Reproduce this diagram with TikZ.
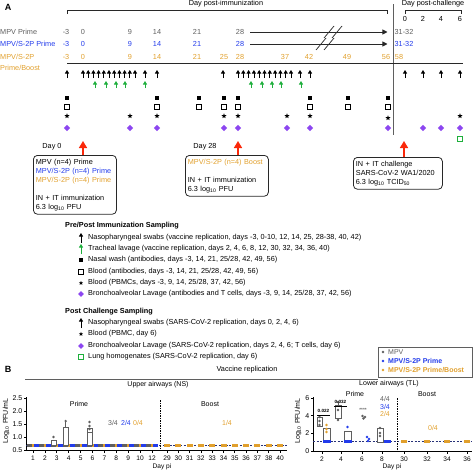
\documentclass[tikz,border=0pt]{standalone}
\usepackage{fontspec}
\setmainfont{Liberation Sans}
\usetikzlibrary{arrows.meta,shapes.geometric}
\definecolor{cblue}{RGB}{35,60,235}
\definecolor{corange}{RGB}{225,160,45}
\definecolor{cgray}{RGB}{95,95,95}
\definecolor{cpurple}{RGB}{140,70,240}
\definecolor{cgreen}{RGB}{30,175,60}
\definecolor{cred}{RGB}{250,40,10}
\definecolor{cdark}{RGB}{40,40,40}
\definecolor{cnavy}{RGB}{40,50,120}
\newcommand\fs{\fontsize{7.3}{9}\selectfont}
\newcommand\fss{\fontsize{7}{8}\selectfont}
\newcommand\fsk{\fontsize{6.6}{7}\selectfont}
\newcommand\fst{\fontsize{4.6}{5}\selectfont\bfseries}
\begin{document}
\begin{tikzpicture}[x=1pt,y=-1pt,every node/.style={inner sep=0pt,font=\fs},
 smallarr/.style={-{Triangle[width=4pt,length=3.5pt]},line width=0.8pt,black},
 grnarr/.style={-{Triangle[width=4pt,length=3.5pt]},line width=0.8pt,cgreen},
 redarr/.style={-{Triangle[width=8pt,length=7pt]},line width=1.6pt,cred},
 longarr/.style={-{Triangle[width=5pt,length=5pt]},line width=0.8pt,cdark},
 fsq/.style={rectangle,fill=black,minimum size=4.5pt},
 osq/.style={rectangle,draw=black,line width=0.8pt,minimum size=4.5pt},
 starm/.style={star,star points=5,star point ratio=2.4,fill=black,minimum size=5.5pt},
 dia/.style={diamond,fill=cpurple,minimum size=6.5pt},
 gsq/.style={rectangle,draw=cgreen,line width=0.9pt,minimum size=5.5pt},
 infobox/.style={draw=cdark,rounded corners=4pt,line width=0.8pt,align=left,inner xsep=2.5pt,inner ysep=3.5pt,anchor=north west},
 axisln/.style={line width=0.8pt,black},
 lod/.style={cnavy,line width=0.6pt,dash pattern=on 2pt off 1.5pt},
 sep/.style={line width=0.7pt,dash pattern=on 1.5pt off 1pt,black},
 pbox/.style={draw=cgray,fill=white,line width=0.6pt},
 lbl/.style={anchor=west},
]
\useasboundingbox (0,0) rectangle (474,469);
% ===== Panel A =====
\node[font=\fontsize{9}{10}\selectfont\bfseries] (A) at (8,7) {A};
\node (dpi) at (226,4) {Day post-immunization};
\draw[line width=0.7pt,cdark] (67,14) -- (67,10) -- (387,10) -- (387,14);
\node (dpc) at (433,4) {Day post-challenge};
\draw[line width=0.7pt,cdark] (405,14) -- (405,10) -- (461,10) -- (461,14);
\foreach \d/\x in {0/405,2/423,4/441,6/460} \node at (\x,19) {\d};
\draw[line width=0.8pt,cgray] (393,4) -- (393,135);
% row labels
\node[lbl,text=cgray] (l1) at (0,32) {MPV Prime};
\node[lbl,text=cblue] (l2) at (0,44) {MPV/S-2P Prime};
\node[lbl,text=corange] (l3) at (0,57) {MPV/S-2P};
\node[lbl,text=corange] (l3b) at (0,68) {Prime/Boost};
% row numbers
\foreach \t/\x in {-3/66,0/83,9/130,14/157,21/197} {
  \node[text=cgray] at (\x,32) {\t};
  \node[text=cblue] at (\x,44) {\t};
}
\node[text=cgray] (a28) at (240,32) {28};
\node[text=cblue] (b28) at (240,44) {28};
\node[text=cgray] (a31) at (404,32) {31-32};
\node[text=cblue] (b31) at (404,44) {31-32};
\draw[longarr,shorten <=6pt,shorten >=7pt] (a28) -- (a31);
\draw[longarr,shorten <=6pt,shorten >=7pt] (b28) -- (b31);
\foreach \c/\y in {329/32,337/32,321/44,329/44}
  \draw[line width=0.7pt,cdark] (\c-5,\y+6) -- (\c+5,\y-6);
\foreach \t/\x in {-3/66,0/83,9/130,14/157,21/197,25/224,28/240,37/285,42/309,49/347,56/386,58/399}
  \node[text=corange] at (\x,57) {\t};
\draw[line width=0.8pt,cdark] (67,63) -- (463,63);
% black sampling arrows
\foreach \x in {67,145,157,223,300,310,405,423,441,460}
  \draw[smallarr] (\x,78) -- (\x,70);
\foreach \k in {0,...,10} {
  \draw[smallarr] (83+5.2*\k,78) -- (83+5.2*\k,70);
  \draw[smallarr] (238+5.3*\k,78) -- (238+5.3*\k,70);
}
\foreach \x in {95,106,116,125,145,251,262,272,281,301}
  \draw[grnarr] (\x,88) -- (\x,81);
\foreach \x in {67,157,199,224,238,310,348,388} {
  \node[fsq] at (\x,98) {};
  \node[osq] at (\x,107) {};
}
\foreach \x in {67,130,157,224,238,287,310,460}
  \node[starm] at (\x,116) {};
\node[starm] at (388,118) {};
\foreach \x in {67,130,157,224,238,287,310,388,423,441,460}
  \node[dia] at (\x,128) {};
\node[gsq] at (460,139) {};
% day labels, red arrows, boxes
\node (d0t) at (52,147) {Day 0};
\node (d28t) at (205,147) {Day 28};
\coordinate (r0) at (83,141);
\coordinate (r28) at (238,141);
\coordinate (rc) at (404,141);
\node[infobox,text width=78pt] (box1) at (33,155) {MPV (n=4) Prime\\ \textcolor{cblue}{MPV/S-2P (n=4) Prime}\\ \textcolor{corange}{MPV/S-2P (n=4) Prime}\\[9pt] IN + IT immunization\\ 6.3 log\textsubscript{10} PFU};
\node[infobox,text width=78pt] (box2) at (185,155) {\textcolor{corange}{MPV/S-2P (n=4) Boost}\\[9pt] IN + IT immunization\\ 6.3 log\textsubscript{10} PFU};
\node[infobox,text width=84pt] (box3) at (353,157) {IN + IT challenge\\ SARS-CoV-2 WA1/2020\\ 6.3 log\textsubscript{10} TCID\textsubscript{50}};
\draw[redarr] (box1.north -| r0) -- (r0);
\draw[redarr] (box2.north -| r28) -- (r28);
\draw[redarr] (box3.north -| rc) -- (rc);
% legend
\node[lbl,font=\fs\bfseries] (h1) at (65,226) {Pre/Post Immunization Sampling};
\draw[smallarr] (81,243) -- (81,233);
\node[lbl] at (88,238) {Nasopharyngeal swabs (vaccine replication, days -3, 0-10, 12, 14, 25, 28-38, 40, 42)};
\draw[grnarr] (81,254) -- (81,244);
\node[lbl] at (88,249) {Tracheal lavage (vaccine replication, days 2, 4, 6, 8, 12, 30, 32, 34, 36, 40)};
\node[fsq] at (81,260) {};
\node[lbl] at (88,260) {Nasal wash (antibodies, days -3, 14, 21, 25/28, 42, 49, 56)};
\node[osq] at (81,272) {};
\node[lbl] at (88,272) {Blood (antibodies, days -3, 14, 21, 25/28, 42, 49, 56)};
\node[starm,minimum size=4.5pt] at (81,283) {};
\node[lbl] at (88,283) {Blood (PBMCs, days -3, 9, 14, 25/28, 37, 42, 56)};
\node[dia,minimum size=6pt] at (81,294) {};
\node[lbl] at (88,294) {Bronchoalveolar Lavage (antibodies and T cells, days -3, 9, 14, 25/28, 37, 42, 56)};
\node[lbl,font=\fs\bfseries] (h2) at (65,312) {Post Challenge Sampling};
\draw[smallarr] (81,328) -- (81,318);
\node[lbl] at (88,323) {Nasopharyngeal swabs (SARS-CoV-2 replication, days 0, 2, 4, 6)};
\node[starm,minimum size=4.5pt] at (81,334) {};
\node[lbl] at (88,334) {Blood (PBMC, day 6)};
\node[dia,minimum size=6pt] at (81,346) {};
\node[lbl] at (88,346) {Bronchoalveolar Lavage (SARS-CoV-2 replication, days 2, 4, 6; T cells, day 6)};
\node[gsq,minimum size=5pt] at (81,357) {};
\node[lbl] at (88,357) {Lung homogenates (SARS-CoV-2 replication, day 6)};
% ===== Panel B =====
\node[font=\fontsize{9}{10}\selectfont\bfseries] (B) at (8,369) {B};
\node (vr) at (247,370) {Vaccine replication};
\draw[line width=1.6pt,cgray] (25,379.5) -- (378,379.5);
\node[draw=cgray,line width=1.3pt,fill=white,minimum width=94pt,minimum height=30pt,anchor=north west] (leg) at (378,347) {};
\fill[cgray] (383,352) circle (1.4pt);
\node[lbl,text=cgray,font=\fss] at (388,352) {MPV};
\fill[cblue] (383,361) circle (1.4pt);
\node[lbl,text=cblue,font=\fss\bfseries] at (388,361) {MPV/S-2P Prime};
\fill[corange] (383,370) circle (1.4pt);
\node[lbl,text=corange,font=\fss\bfseries] at (388,370) {MPV/S-2P Prime/Boost};
% upper airways plot
\node[font=\fss] (ua) at (158,385) {Upper airways (NS)};
\node[font=\fss,rotate=90] (ylab1) at (6,421) {Log\textsubscript{10} PFU/mL};
\draw[axisln] (26,397) -- (26,450) -- (287,450);
\foreach \v/\y in {0.5/450,1.0/437,1.5/424,2.0/411,2.5/398} {
  \draw[axisln] (26,\y) -- (23.5,\y);
  \node[anchor=east,font=\fss] at (22.5,\y) {\v};
}
\draw[lod] (26,445) -- (287,445);
\draw[sep] (160,400) -- (160,450);
\foreach \d [count=\i from 0] in {1,2,3,4,5,6,7,8,9,10,12} {
  \pgfmathsetmacro\xx{33+11.9*\i}
  \draw[axisln] (\xx,450) -- (\xx,452.5);
  \node[font=\fsk] at (\xx,458.5) {\d};
  \fill[corange] (\xx-2,443.5) rectangle (\xx+2,446.5);
  \fill[cgray] (\xx-6,443.5) rectangle (\xx-1,446.5);
  \fill[cblue] (\xx+1,443.5) rectangle (\xx+6,446.5);
}
\foreach \d [count=\j from 0] in {29,30,31,32,33,34,35,36,37,38,40} {
  \pgfmathsetmacro\xx{167+11.3*\j}
  \draw[axisln] (\xx,450) -- (\xx,452.5);
  \node[font=\fsk] at (\xx,458.5) {\d};
  \fill[corange] (\xx-3,443.5) rectangle (\xx+3,446.5);
}
% boxes upper
\draw[pbox] (51,445) rectangle (56,440);
\fill[cgray] (53.5,437) circle (1.3pt);
\draw[cgray,line width=0.6pt] (65.7,427) -- (65.7,421);
\draw[pbox] (63.2,445) rectangle (68.2,427);
\fill[cgray] (65.7,421) circle (1.3pt);
\draw[pbox] (87,445) rectangle (92,428);
\draw[cgray,line width=0.6pt] (87,432) -- (92,432);
\foreach \y in {422,426,429} \fill[cgray] (89.5,\y) circle (1.3pt);
\node[font=\fss] (p1) at (79,404) {Prime};
\node[font=\fss] (b1) at (210,404) {Boost};
\node[font=\fss,text=cgray] at (113,423) {3/4};
\node[font=\fss,text=cblue] at (126,423) {2/4};
\node[font=\fss,text=corange] at (138,423) {0/4};
\node[font=\fss,text=corange] at (227,423) {1/4};
\node[font=\fsk] (dp1) at (162,466.5) {Day pi};
% lower airways plot
\node[font=\fss] (la) at (389,384) {Lower airways (TL)};
\node[font=\fss,rotate=90] (ylab2) at (298,421) {Log\textsubscript{10} PFU/mL};
\draw[axisln] (313,397) -- (313,451) -- (472,451);
\foreach \v/\y in {0/451,2/433.3,4/415.7,6/398} {
  \draw[axisln] (313,\y) -- (310.5,\y);
  \node[anchor=east,font=\fss] at (309.5,\y) {\v};
}
\foreach \d/\x in {2/322,4/341,6/362,8/382,30/404,32/427,34/447,36/467} {
  \draw[axisln] (\x,451) -- (\x,453.5);
  \node[font=\fsk] at (\x,459) {\d};
}
\draw[lod] (313,441) -- (472,441);
\draw[sep] (397,398) -- (397,451);
% day 2
\draw[pbox] (317,417) rectangle (322,426);
\foreach \y in {417,421,425} \fill[cgray] (319.5,\y) circle (1.3pt);
\draw[pbox] (323,428) rectangle (330,440);
\foreach \y in {425,429,432} \fill[corange] (326.5,\y) circle (1.3pt);
\fill[cblue] (322.5,439.5) rectangle (330.5,442.5);
% day 4
\draw[cgray,line width=0.6pt] (338,402) -- (338,420);
\draw[pbox] (335,405) rectangle (341,418);
\foreach \y in {402,410,420} \fill[cgray] (338,\y) circle (1.3pt);
\draw[pbox] (344,431) rectangle (351,440);
\fill[cblue] (347.5,427) circle (1.3pt);
\fill[cblue] (343.5,439.5) rectangle (351.5,442.5);
% day 6
\foreach \p in {(362.5,416),(365,417),(363.5,418.5)} \fill[cgray] \p circle (1.4pt);
\foreach \p in {(367,437),(369,439),(368,441)} \fill[cblue] \p circle (1.3pt);
% day 8
\draw[pbox] (377,428) rectangle (383,442);
\foreach \y in {428,433,436} \fill[cgray] (380,\y) circle (1.3pt);
\fill[cblue] (384,439.5) rectangle (391,442.5);
\foreach \x in {404,427,447,467} \fill[corange] (\x-3,439.5) rectangle (\x+3,442.5);
% significance
\node[font=\fst] at (323.5,411) {0.022};
\draw[line width=0.5pt] (317,415.5) -- (330,415.5);
\node[font=\fst] at (340.5,402) {0.032};
\draw[line width=0.5pt] (334,406) -- (347,406);
\node[font=\fst,text=cgray] at (363,410) {****};
\node[font=\fss] (p2) at (355,394) {Prime};
\node[font=\fss] (b2) at (427,394) {Boost};
\node[font=\fss,text=cgray] at (385,399) {4/4};
\node[font=\fss,text=cblue] at (385,407) {3/4};
\node[font=\fss,text=corange] at (385,414) {2/4};
\node[font=\fss,text=corange] at (433,428) {0/4};
\node[font=\fsk] (dp2) at (392,466.5) {Day pi};
\end{tikzpicture}
\end{document}
